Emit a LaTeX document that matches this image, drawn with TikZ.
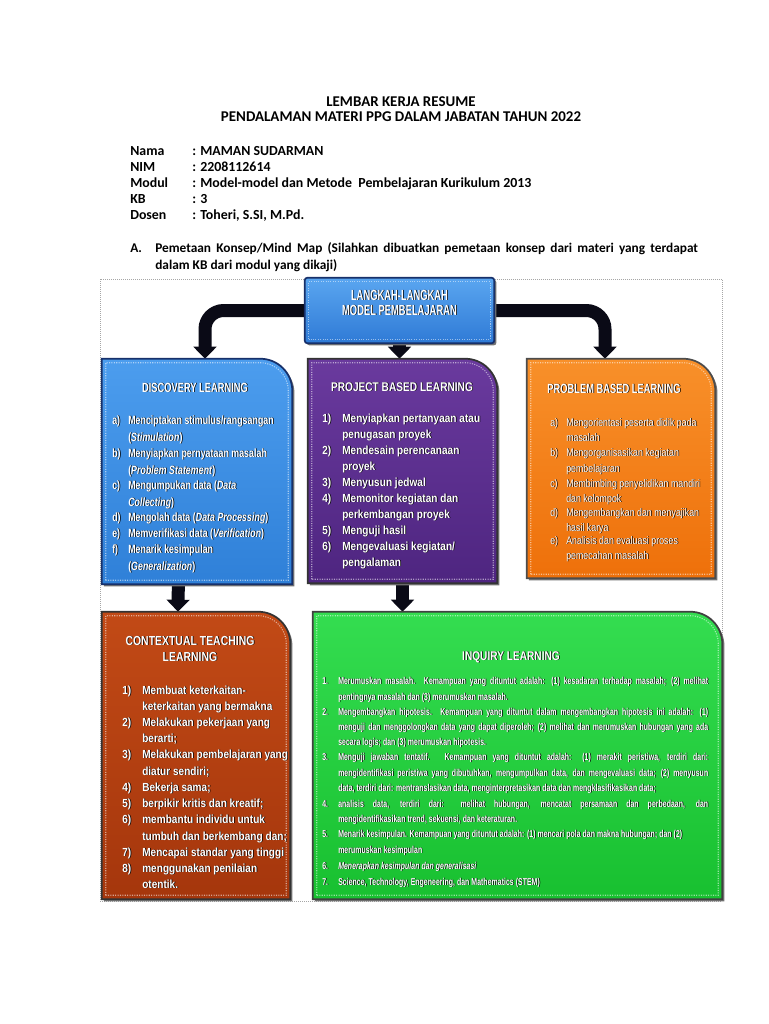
\documentclass[tikz,border=0pt]{standalone}
\usepackage{fontspec}
\setmainfont{Carlito}
\newfontfamily\nA[FakeStretch=0.64]{Liberation Sans}
\newfontfamily\nB[FakeStretch=0.80]{Liberation Sans}
\newfontfamily\nE[FakeStretch=0.74]{Liberation Sans}
\newfontfamily\nC[FakeStretch=0.86]{Liberation Sans}
\newfontfamily\nD[FakeStretch=0.70]{Liberation Sans}
\newfontfamily\nT[FakeStretch=0.70]{Liberation Sans}
\usetikzlibrary{arrows.meta}
\definecolor{arrowc}{HTML}{0A0A16}
\definecolor{lkT}{HTML}{5AA6F0}\definecolor{lkB}{HTML}{2F7AD6}
\definecolor{dT}{HTML}{4C9DEE}\definecolor{dB}{HTML}{2F80D8}
\definecolor{pT}{HTML}{6A3A9E}\definecolor{pB}{HTML}{4E2580}
\definecolor{oT}{HTML}{F8902A}\definecolor{oB}{HTML}{EE700A}
\definecolor{cT}{HTML}{C24A16}\definecolor{cB}{HTML}{A5360C}
\definecolor{gT}{HTML}{34DD50}\definecolor{gB}{HTML}{18C030}
\definecolor{navy}{HTML}{17306A}
\newcommand\shd[1]{\leavevmode\rlap{\kern0.55pt\raisebox{-0.55pt}{\color{black}#1}}#1}
\newcommand\tx[4]{\node[tw] (#1) at (#2,#3) {\shd{#4}};}
\newcommand\fancybox[4]{%
  \fill[black!55]
    ([shift={(1.6pt,-1.6pt)}]#1.south west) -- ([shift={(1.6pt,-1.6pt)}]#1.north west) -- ([shift={(-22.4pt,-1.6pt)}]#1.north east)
    arc[start angle=90, end angle=0, radius=24pt] -- ([shift={(1.6pt,-1.6pt)}]#1.south east) -- cycle;
  \shade[top color=#2, bottom color=#3, draw=#4, line width=1.3pt]
    (#1.south west) -- (#1.north west) -- ([xshift=-24pt]#1.north east)
    arc[start angle=90, end angle=0, radius=24pt] -- (#1.south east) -- cycle;
  \draw[white, opacity=0.55, densely dotted, line width=0.8pt]
    ([shift={(3pt,3pt)}]#1.south west) -- ([shift={(3pt,-3pt)}]#1.north west) -- ([shift={(-24pt,-3pt)}]#1.north east)
    arc[start angle=90, end angle=0, radius=21pt] -- ([shift={(-3pt,3pt)}]#1.south east) -- cycle;
}
\tikzset{
  hdr/.style={anchor=base west, inner sep=0pt, font=\fontsize{10.4}{12}\selectfont\bfseries},
  hdra/.style={anchor=base west, inner sep=0pt, font=\fontsize{10}{12}\selectfont\bfseries},
  ttlh/.style={anchor=base, inner sep=0pt, font=\fontsize{11.2}{13}\selectfont\bfseries},
  bx/.style={draw=none, inner sep=0pt, rectangle},
  tw/.style={anchor=base west, inner sep=0pt, text=white},
  ttl/.style={anchor=base, inner sep=0pt, text=white},
  band/.style={line width=9.75pt, draw=arrowc, rounded corners=14pt, -{Triangle[width=17pt,length=9pt]}},
  framed/.style={densely dotted, draw=gray!70, line width=0.5pt},
}
\begin{document}
\begin{tikzpicture}[x=0.75pt,y=-0.75pt]
\useasboundingbox (0,0) rectangle (768,1024);
\fill[white] (0,0) rectangle (768,1024);

% header
\node[ttlh] (t1) at (401,106) {LEMBAR KERJA RESUME};
\node[ttlh] (t2) at (401,122) {PENDALAMAN MATERI PPG DALAM JABATAN TAHUN 2022};
\node[hdr] (l1) at (130,155) {Nama};  \node[hdr] (v1) at (192,155) {: MAMAN SUDARMAN};
\node[hdr] (l2) at (130,171) {NIM};   \node[hdr] (v2) at (192,171) {: 2208112614};
\node[hdr] (l3) at (130,187) {Modul}; \node[hdr] (v3) at (192,187) {: Model-model dan Metode\ \ Pembelajaran Kurikulum 2013};
\node[hdr] (l4) at (130,203) {KB};    \node[hdr] (v4) at (192,203) {: 3};
\node[hdr] (l5) at (130,219) {Dosen}; \node[hdr] (v5) at (192,219) {: Toheri, S.SI, M.Pd.};
\node[hdra] (a0) at (130,252) {A.};
\node[hdra] (a1) at (155,252) {\makebox[407pt][s]{Pemetaan Konsep/Mind Map (Silahkan dibuatkan pemetaan konsep dari materi yang terdapat}};
\node[hdra] (a2) at (155,269) {dalam KB dari modul yang dikaji)};

\draw[framed] (100,279) rectangle (722,901);

% box placeholders
\node[bx, minimum width=189*0.75pt, minimum height=65*0.75pt] (lk) at (399.5,310.5) {};
\node[bx, minimum width=190*0.75pt, minimum height=225*0.75pt] (disc) at (197,471.5) {};
\node[bx, minimum width=189*0.75pt, minimum height=224*0.75pt] (proj) at (402.5,471) {};
\node[bx, minimum width=188*0.75pt, minimum height=219*0.75pt] (prob) at (621,468.5) {};
\node[bx, minimum width=188*0.75pt, minimum height=287*0.75pt] (ctl) at (196,755.5) {};
\node[bx, minimum width=409*0.75pt, minimum height=287*0.75pt] (inq) at (517.5,755.5) {};

% connectors
\draw[band] (lk.west) -| ([xshift=6pt]disc.north);
\draw[band] (lk.east) -| ([xshift=-12pt]prob.north);
\draw[band] (lk.south) -- (lk.south |- proj.north);
\draw[band] ([xshift=-14pt]disc.south) -- ([xshift=-13.5pt]ctl.north);
\draw[band] (proj.south) -- (proj.south |- inq.north);

% top box
\fill[black!55, rounded corners=2pt] ([shift={(1.6pt,-1.6pt)}]lk.south west) rectangle ([shift={(1.6pt,-1.6pt)}]lk.north east);
\shade[top color=lkT, bottom color=lkB, draw=navy, line width=1.3pt, rounded corners=2pt] (lk.south west) rectangle (lk.north east);
\draw[white, opacity=0.5, densely dotted, line width=0.8pt] ([shift={(3pt,3pt)}]lk.south west) rectangle ([shift={(-3pt,-3pt)}]lk.north east);
\node[ttl, font=\nA\bfseries\fontsize{11}{12}\selectfont] (lkt1) at (399.5,300) {\shd{LANGKAH-LANGKAH}};
\node[ttl, font=\nA\bfseries\fontsize{11}{12}\selectfont] (lkt2) at (399.5,315) {\shd{MODEL PEMBELAJARAN}};

% boxes
\fancybox{disc}{dT}{dB}{navy}
\fancybox{proj}{pT}{pB}{black!80}
\fancybox{prob}{oT}{oB}{black!70}
\fancybox{ctl}{cT}{cB}{black!80}
\fancybox{inq}{gT}{gB}{black!75}

% discovery
\node[ttl, font=\nT\bfseries\fontsize{10}{11}\selectfont] (dt) at (195,392) {\shd{DISCOVERY LEARNING}};
\begin{scope}[every node/.append style={font=\nE\bfseries\fontsize{9}{10}\selectfont}]
\tx{da}{112}{424}{a)} \tx{da1}{128}{424}{Menciptakan stimulus/rangsangan}
\tx{da2}{128}{441}{(\textit{Stimulation})}
\tx{db}{112}{457}{b)} \tx{db1}{128}{457}{Menyiapkan pernyataan masalah}
\tx{db2}{128}{474}{(\textit{Problem Statement})}
\tx{dc}{112}{489}{c)} \tx{dc1}{128}{489}{Mengumpukan data (\textit{Data}}
\tx{dc2}{128}{506}{\textit{Collecting})}
\tx{dd}{112}{521}{d)} \tx{dd1}{128}{521}{Mengolah data (\textit{Data Processing})}
\tx{de}{112}{537}{e)} \tx{de1}{128}{537}{Memverifikasi data (\textit{Verification})}
\tx{df}{112}{553}{f)} \tx{df1}{128}{553}{Menarik kesimpulan}
\tx{df2}{128}{570}{(\textit{Generalization})}
\end{scope}

% project
\node[ttl, font=\nB\bfseries\fontsize{9.5}{11}\selectfont] (pt) at (402,391) {\shd{PROJECT BASED LEARNING}};
\begin{scope}[every node/.append style={font=\nC\bfseries\fontsize{8.8}{10}\selectfont}]
\tx{p1}{322}{422}{1)} \tx{p11}{342}{422}{Menyiapkan pertanyaan atau}
\tx{p12}{342}{438}{penugasan proyek}
\tx{p2}{322}{454}{2)} \tx{p21}{342}{454}{Mendesain perencanaan}
\tx{p22}{342}{470}{proyek}
\tx{p3}{322}{486}{3)} \tx{p31}{342}{486}{Menyusun jedwal}
\tx{p4}{322}{502}{4)} \tx{p41}{342}{502}{Memonitor kegiatan dan}
\tx{p42}{342}{518}{perkembangan proyek}
\tx{p5}{322}{534}{5)} \tx{p51}{342}{534}{Menguji hasil}
\tx{p6}{322}{550}{6)} \tx{p61}{342}{550}{Mengevaluasi kegiatan/}
\tx{p62}{342}{566}{pengalaman}
\end{scope}

% problem
\node[ttl, font=\nT\bfseries\fontsize{10}{11}\selectfont] (ot) at (614,393) {\shd{PROBLEM BASED LEARNING}};
\begin{scope}[every node/.append style={font=\nB\fontsize{8.3}{10}\selectfont}]
\tx{o1}{550}{426}{a)} \tx{o11}{566}{426}{Mengorientasi peserta didik pada}
\tx{o12}{566}{441}{masalah}
\tx{o2}{550}{456}{b)} \tx{o21}{566}{456}{Mengorganisasikan kegiatan}
\tx{o22}{566}{472}{pembelajaran}
\tx{o3}{550}{487}{c)} \tx{o31}{566}{487}{Membimbing penyelidikan mandiri}
\tx{o32}{566}{502}{dan kelompok}
\tx{o4}{550}{516}{d)} \tx{o41}{566}{516}{Mengembangkan dan menyajikan}
\tx{o42}{566}{531}{hasil karya}
\tx{o5}{550}{544}{e)} \tx{o51}{566}{544}{Analisis dan evaluasi proses}
\tx{o52}{566}{559}{pemecahan masalah}
\end{scope}

% contextual
\node[ttl, font=\nB\bfseries\fontsize{9.8}{11}\selectfont] (ct1) at (190,645) {\shd{CONTEXTUAL TEACHING}};
\node[ttl, font=\nB\bfseries\fontsize{9.8}{11}\selectfont] (ct2) at (190,661) {\shd{LEARNING}};
\begin{scope}[every node/.append style={font=\nC\bfseries\fontsize{8.8}{10}\selectfont}]
\tx{c1}{122}{694}{1)} \tx{c11}{142}{694}{Membuat keterkaitan-}
\tx{c12}{142}{710}{keterkaitan yang bermakna}
\tx{c2}{122}{726}{2)} \tx{c21}{142}{726}{Melakukan pekerjaan yang}
\tx{c22}{142}{742}{berarti;}
\tx{c3}{122}{758}{3)} \tx{c31}{142}{758}{Melakukan pembelajaran yang}
\tx{c32}{142}{775}{diatur sendiri;}
\tx{c4}{122}{791}{4)} \tx{c41}{142}{791}{Bekerja sama;}
\tx{c5}{122}{807}{5)} \tx{c51}{142}{807}{berpikir kritis dan kreatif;}
\tx{c6}{122}{823}{6)} \tx{c61}{142}{823}{membantu individu untuk}
\tx{c62}{142}{840}{tumbuh dan berkembang dan;}
\tx{c7}{122}{856}{7)} \tx{c71}{142}{856}{Mencapai standar yang tinggi}
\tx{c8}{122}{872}{8)} \tx{c81}{142}{872}{menggunakan penilaian}
\tx{c82}{142}{888}{otentik.}
\end{scope}

% inquiry
\node[ttl, font=\nB\bfseries\fontsize{9.5}{11}\selectfont] (it) at (511,660) {\shd{INQUIRY LEARNING}};
\begin{scope}[every node/.append style={font=\nD\bfseries\fontsize{7.5}{9}\selectfont}]
\tx{i1}{322}{684}{1.} \tx{i11}{338}{684}{\makebox[277.5pt][s]{Merumuskan masalah. Kemampuan yang dituntut adalah: (1) kesadaran terhadap masalah; (2) melihat}}
\tx{i12}{338}{700}{pentingnya masalah dan (3) merumuskan masalah.}
\tx{i2}{322}{715}{2.} \tx{i21}{338}{715}{\makebox[277.5pt][s]{Mengembangkan hipotesis. Kemampuan yang dituntut dalam mengembangkan hipotesis ini adalah: (1)}}
\tx{i22}{338}{730}{\makebox[277.5pt][s]{menguji dan menggolongkan data yang dapat diperoleh; (2) melihat dan merumuskan hubungan yang ada}}
\tx{i23}{338}{745}{secara logis; dan (3) merumuskan hipotesis.}
\tx{i3}{322}{760}{3.} \tx{i31}{338}{760}{\makebox[277.5pt][s]{Menguji jawaban tentatif. Kemampuan yang dituntut adalah: (1) merakit peristiwa, terdiri dari:}}
\tx{i32}{338}{776}{\makebox[277.5pt][s]{mengidentifikasi peristiwa yang dibutuhkan, mengumpulkan data, dan mengevaluasi data; (2) menyusun}}
\tx{i33}{338}{791}{data, terdiri dari: mentranslasikan data, menginterpretasikan data dan mengklasifikasikan data;}
\tx{i4}{322}{807}{4.} \tx{i41}{338}{807}{\makebox[277.5pt][s]{analisis data, terdiri dari: melihat hubungan, mencatat persamaan dan perbedaan, dan}}
\tx{i42}{338}{822}{mengidentifikasikan trend, sekuensi, dan keteraturan.}
\tx{i5}{322}{837}{5.} \tx{i51}{338}{837}{Menarik kesimpulan. Kemampuan yang dituntut adalah: (1) mencari pola dan makna hubungan; dan (2)}
\tx{i52}{338}{853}{merumuskan kesimpulan}
\tx{i6}{322}{869}{6.} \tx{i61}{338}{869}{\textit{Menerapkan kesimpulan dan generalisasi}}
\tx{i7}{322}{885}{7.} \tx{i71}{338}{885}{Science, Technology, Engeneering, dan Mathematics (STEM)}
\end{scope}
\end{tikzpicture}
\end{document}
